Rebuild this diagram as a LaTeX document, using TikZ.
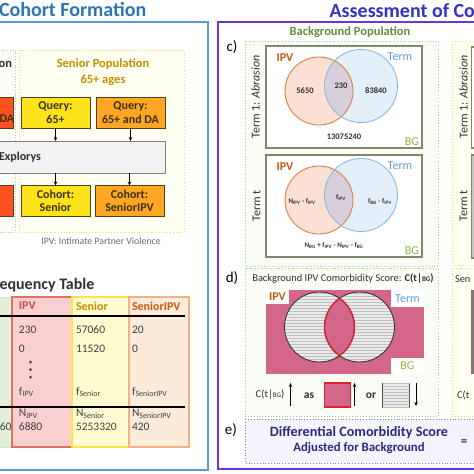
\documentclass[tikz,border=0pt]{standalone}
\usepackage{fontspec}
\setmainfont{Carlito}
\usetikzlibrary{patterns,arrows.meta}
\definecolor{blueframe}{HTML}{5B9BD5}
\definecolor{purpframe}{HTML}{6A35D9}
\definecolor{titleblue}{HTML}{2E75B6}
\definecolor{titlepurp}{HTML}{3333C8}
\definecolor{olivegold}{HTML}{BF9000}
\definecolor{qyellow}{HTML}{FFE31A}
\definecolor{qorange}{HTML}{FFA722}
\definecolor{qred}{HTML}{FF5020}
\definecolor{boxedge}{HTML}{4D4020}
\definecolor{qtext}{HTML}{3A3010}
\definecolor{dotgreen}{HTML}{A9D18E}
\definecolor{dotyellow}{HTML}{E3E35A}
\definecolor{dotpurp}{HTML}{8080C8}
\definecolor{paleyellow}{HTML}{FFFFF2}
\definecolor{palegreen}{HTML}{FAFDF6}
\definecolor{palepurp}{HTML}{F5F3FB}
\definecolor{ipvorange}{HTML}{C55A11}
\definecolor{ipvfill}{HTML}{FBE1D3}
\definecolor{ipvline}{HTML}{E08040}
\definecolor{termblue}{HTML}{5B9BD5}
\definecolor{termfill}{HTML}{E3F0FA}
\definecolor{termline}{HTML}{8DB8E0}
\definecolor{overlapc}{HTML}{D9CEDB}
\definecolor{bggreen}{HTML}{8DB33A}
\definecolor{venngray}{HTML}{7F8A6A}
\definecolor{hatchred}{HTML}{D4668A}
\definecolor{lensred}{HTML}{E0202A}
\definecolor{navy}{HTML}{2A2A80}
\definecolor{bgpop}{HTML}{6B8A3A}
\definecolor{celltext}{HTML}{404040}
\definecolor{darktext}{HTML}{303030}
\definecolor{greencol}{HTML}{E2F0D9}
\definecolor{ipvcol}{HTML}{F9D0CF}
\definecolor{ipvcoledge}{HTML}{E07060}
\definecolor{ipvhdr}{HTML}{E04848}
\definecolor{seniorcol}{HTML}{FFFBD0}
\definecolor{seniorcoledge}{HTML}{FFE14D}
\definecolor{sipvcol}{HTML}{FDEBD9}
\definecolor{sipvcoledge}{HTML}{F4B183}
\definecolor{mauvegray}{HTML}{8A7078}
\begin{document}
\begin{tikzpicture}[x=1pt,y=-1pt,
  every node/.style={inner sep=0pt,outer sep=0pt},
  arr/.style={-{Stealth[length=4pt,width=3.5pt]},line width=0.7pt,black},
  qbox/.style={draw=boxedge,line width=0.8pt,minimum width=69pt,minimum height=31pt,align=center,font=\fontsize{12}{13.5}\selectfont\bfseries,text=qtext},
  dotbox/.style={dotted,line width=0.8pt},
  vennbox/.style={draw=venngray,line width=1.3pt,fill=white},
  cell/.style={anchor=west,font=\fontsize{11.5}{13}\selectfont,text=celltext},
  hdr/.style={anchor=west,font=\fontsize{12}{14}\selectfont\bfseries},
  vlabel/.style={font=\fontsize{12}{14}\selectfont},
  vnum/.style={font=\fontsize{8.5}{10}\selectfont\bfseries,text=darktext},
  vform/.style={font=\fontsize{7}{8}\selectfont\bfseries,text=darktext},
  sidelab/.style={rotate=90,font=\fontsize{12}{14}\selectfont,text=darktext},
  panlab/.style={font=\fontsize{15}{16}\selectfont,text=black},
]
\useasboundingbox (0,0) rectangle (474,474);
\fill[white] (0,0) rectangle (474,474);
\begin{scope}
\clip (0,0) rectangle (474,474);
% ================= LEFT PANEL =================
\draw[blueframe,line width=2.6pt] (-10,22) rectangle (208,470);
\node[font=\fontsize{20}{22}\selectfont\bfseries,text=titleblue,anchor=west] (t1) at (-1,10) {Cohort Formation};
\draw[dotbox,draw=dotgreen,fill=palegreen] (-20,50) rectangle (15,232);
\draw[dotbox,draw=dotyellow,fill=paleyellow] (19,50) rectangle (184,232);
\node[anchor=east,font=\fontsize{12.5}{14}\selectfont\bfseries,text=darktext] (on) at (12,64) {on};
\node[font=\fontsize{12.5}{16}\selectfont\bfseries,text=olivegold,align=center] (sp) at (103,72) {Senior Population\\65+ ages};
% queries
\node[qbox,fill=qred,minimum width=34pt] (qipv) at (-4,112.5) {};
\node[anchor=west,font=\fontsize{12}{13}\selectfont\bfseries,text=qtext] (da) at (-0.5,119) {DA};
\node[qbox,fill=qyellow] (q65) at (55.5,112.5) {Query:\\65+};
\node[qbox,fill=qorange] (q65da) at (130.5,112.5) {Query:\\65+ and DA};
\node[draw=gray,line width=0.8pt,fill=gray!10,minimum width=185pt,minimum height=32pt] (expl) at (72.5,157) {};
\node[anchor=west,font=\fontsize{12}{13}\selectfont\bfseries,text=darktext] (expltxt) at (-1,157) {Explorys};
\node[qbox,fill=qred,minimum width=34pt] (cipv) at (-4,201) {};
\node[qbox,fill=qyellow] (cs) at (55.5,201) {Cohort:\\Senior};
\node[qbox,fill=qorange] (csipv) at (129.5,201) {Cohort:\\SeniorIPV};
\draw[arr] (q65.south) -- (q65.south |- expl.north);
\draw[arr] (q65da.south) -- (q65da.south |- expl.north);
\draw[arr] (expl.south -| cs.north) -- (cs.north);
\draw[arr] (expl.south -| csipv.north) -- (csipv.north);
\node[font=\fontsize{9.8}{11}\selectfont,text=gray!85!black] (ipvdef) at (101,241) {IPV: Intimate Partner Violence};
% frequency table
\node[anchor=west,font=\fontsize{16}{18}\selectfont\bfseries,text=darktext] (ft) at (-0.5,285) {equency Table};
\draw[greencol!70!dotgreen,fill=greencol,line width=1pt] (-20,297) rectangle (12,447);
\draw[ipvcoledge,fill=ipvcol,line width=1.1pt] (12,297) rectangle (72,447);
\draw[seniorcoledge,fill=seniorcol,line width=1.1pt] (72,297) rectangle (129,447);
\draw[sipvcoledge,fill=sipvcol,line width=1.1pt] (129,297) rectangle (189,447);
\node[hdr,text=ipvhdr] (h1) at (19,306) {IPV};
\node[hdr,text=olivegold] (h2) at (76,306) {Senior};
\node[hdr,text=ipvorange] (h3) at (132,306) {SeniorIPV};
\draw[black,line width=1.1pt] (-5,316) -- (185,316);
\node[cell] (r11) at (19,330) {230};
\node[cell] (r12) at (76,330) {57060};
\node[cell] (r13) at (132,330) {20};
\node[cell] (r21) at (19,349) {0};
\node[cell] (r22) at (76,349) {11520};
\node[cell] (r23) at (132,349) {0};
\fill[celltext] (30.5,362) circle (1.5pt) (30.5,369.5) circle (1.5pt) (30.5,377) circle (1.5pt);
\node[cell] (f1) at (19,392) {f\textsubscript{IPV}};
\node[cell] (f2) at (76,392) {f\textsubscript{Senior}};
\node[cell] (f3) at (132,392) {f\textsubscript{SeniorIPV}};
\draw[black,line width=1.1pt] (-5,407) -- (185,407);
\node[cell] (n1) at (19,414) {N\textsubscript{IPV}};
\node[cell] (n2) at (76,414) {N\textsubscript{Senior}};
\node[cell] (n3) at (132,414) {N\textsubscript{SeniorIPV}};
\node[cell,anchor=east] (n0v) at (11.5,427) {60};
\node[cell] (n1v) at (19,427) {6880};
\node[cell] (n2v) at (76,427) {5253320};
\node[cell] (n3v) at (132,427) {420};
% ================= RIGHT PANEL =================
\draw[purpframe,line width=2.6pt] (218,22) rectangle (490,469);
\node[font=\fontsize{20}{22}\selectfont\bfseries,text=titlepurp,anchor=east] (t2) at (475,11) {Assessment of Co};
\node[panlab] (lc) at (232,47) {c)};
\node[font=\fontsize{12.5}{14}\selectfont\bfseries,text=bgpop] (bgp) at (350,32) {Background Population};
\draw[dotbox,draw=dotgreen,fill=palegreen] (245,41) rectangle (438,266);
\node[sidelab] (s1) at (255.5,97) {Term 1: \textit{Abrasion}};
\node[sidelab] (s2) at (256.5,206) {Term t};
% venn boxes
\foreach \dy/\nm in {0/a,109/b}{
\begin{scope}[shift={(0,\dy)}]
\draw[vennbox] (266,46) rectangle (422,148);
\fill[ipvfill] (319,91) circle (34pt);
\fill[termfill] (361,86) circle (36.5pt);
\begin{scope}\clip (319,91) circle (34pt); \fill[overlapc] (361,86) circle (36.5pt);\end{scope}
\draw[ipvline,line width=0.9pt] (319,91) circle (34pt);
\draw[termline,line width=0.9pt] (361,86) circle (36.5pt);
\node[vlabel,font=\fontsize{12}{14}\selectfont\bfseries,text=ipvorange] (ipv\nm) at (285,58) {IPV};
\node[vlabel,text=termblue] (term\nm) at (400,57) {Term};
\node[vlabel,text=bggreen] (bg\nm) at (412,142) {BG};
\end{scope}
}
\node[vnum] (v1) at (305,91) {5650};
\node[vnum] (v2) at (341,86) {230};
\node[vnum] (v3) at (376,91) {83840};
\node[vnum] (v4) at (344,137) {13075240};
\node[vform] (w1) at (302,202) {N\textsubscript{IPV} - f\textsubscript{IPV}};
\node[vform] (w2) at (341,198) {f\textsubscript{IPV}};
\node[vform] (w3) at (380,202) {f\textsubscript{BG} - f\textsubscript{IPV}};
\node[vform] (w4) at (334,246) {N\textsubscript{BG} + f\textsubscript{IPV} - N\textsubscript{IPV} - f\textsubscript{BG}};
% d)
\node[panlab] (ld) at (232,278) {d)};
\draw[dotbox,draw=dotgreen,fill=palegreen] (245,268) rectangle (438,416);
\node[font=\fontsize{10.4}{12}\selectfont,text=darktext] (dtitle) at (343,279) {Background IPV Comorbidity Score: \textbf{C(t|{\scriptsize BG})}};
\fill[hatchred] (266,290) rectangle (424,374);
\coordinate (ca) at (319.5,327);
\coordinate (cb) at (359.5,327);
\fill[gray!16] (ca) circle (35pt) (cb) circle (35pt);
\fill[pattern=horizontal lines,pattern color=gray!50] (ca) circle (35pt) (cb) circle (35pt);
\begin{scope}\clip (ca) circle (35pt); \fill[hatchred] (cb) circle (35pt);\end{scope}
\draw[black!80,line width=0.9pt] (ca) circle (35pt) (cb) circle (35pt);
\begin{scope}\clip (ca) circle (35pt); \draw[lensred,line width=1.3pt] (cb) circle (35pt);\end{scope}
\begin{scope}\clip (cb) circle (35pt); \draw[lensred,line width=1.3pt] (ca) circle (35pt);\end{scope}
\node[fill=white,minimum width=23pt,minimum height=15pt,font=\fontsize{12}{14}\selectfont\bfseries,text=ipvorange] (dipv) at (277.5,296.5) {IPV};
\node[fill=white,minimum width=33pt,minimum height=17pt,font=\fontsize{12}{14}\selectfont,text=termblue] (dterm) at (407.5,298.5) {Term};
\node[fill=white,minimum width=33pt,minimum height=16pt,font=\fontsize{12}{14}\selectfont,text=bggreen] (dbg) at (407.5,366) {BG};
% legend row
\node[font=\fontsize{10.5}{12}\selectfont,text=darktext] (cdesc) at (270,395) {C(t|{\scriptsize BG})};
\coordinate (u1a) at (290.5,406); \coordinate (u1b) at (290.5,383);
\draw[arr] (u1a) -- (u1b);
\node[font=\fontsize{11.5}{12}\selectfont\bfseries,text=darktext] (as) at (309,396) {as};
\node[draw=lensred,fill=hatchred,line width=1.2pt,minimum width=26pt,minimum height=24pt] (sqr) at (337.5,395) {};
\coordinate (u2a) at (354.5,406); \coordinate (u2b) at (354.5,383);
\draw[arr] (u2a) -- (u2b);
\node[font=\fontsize{11.5}{12}\selectfont\bfseries,text=darktext] (or) at (371,396) {or};
\node[draw=black!75,fill=gray!16,line width=1pt,minimum width=27pt,minimum height=24pt] (sqg) at (396,395) {};
\fill[pattern=horizontal lines,pattern color=gray!50] (sqg.south west) rectangle (sqg.north east);
\coordinate (d1a) at (416,383); \coordinate (d1b) at (416,406);
\draw[arr] (d1a) -- (d1b);
% e)
\node[panlab] (le) at (231,430) {e)};
\draw[dotbox,draw=dotpurp,fill=palepurp] (245,419) rectangle (490,463);
\node[font=\fontsize{14.2}{15}\selectfont\bfseries,text=navy] (dcs) at (359,433) {Differential Comorbidity Score};
\node[font=\fontsize{12.8}{13}\selectfont\bfseries,text=navy] (adj) at (359,448.5) {Adjusted for Background};
\node[font=\fontsize{13}{15}\selectfont\bfseries,text=navy] (eq) at (464,443) {=};
% partial right column
\draw[dotbox,draw=dotyellow,fill=paleyellow] (452,41) rectangle (500,265);
\node[sidelab] (s3) at (463.5,97) {Term 1: \textit{Abrasion}};
\node[sidelab] (s4) at (463.5,206) {Term t};
\draw[vennbox] (471.5,47) rectangle (540,148);
\draw[draw=venngray,line width=1.3pt,fill=gray!45] (471.5,155) rectangle (540,258);
\draw[dotbox,draw=dotyellow,fill=paleyellow] (452,268) rectangle (500,416);
\node[anchor=west,font=\fontsize{10.4}{11}\selectfont,text=darktext] (sen) at (455,279) {Sen};
\fill[mauvegray] (470.5,290) rectangle (540,374);
\node[anchor=west,font=\fontsize{10.5}{12}\selectfont,text=darktext] (ct) at (457,395) {C(t};
\end{scope}
\end{tikzpicture}
\end{document}
